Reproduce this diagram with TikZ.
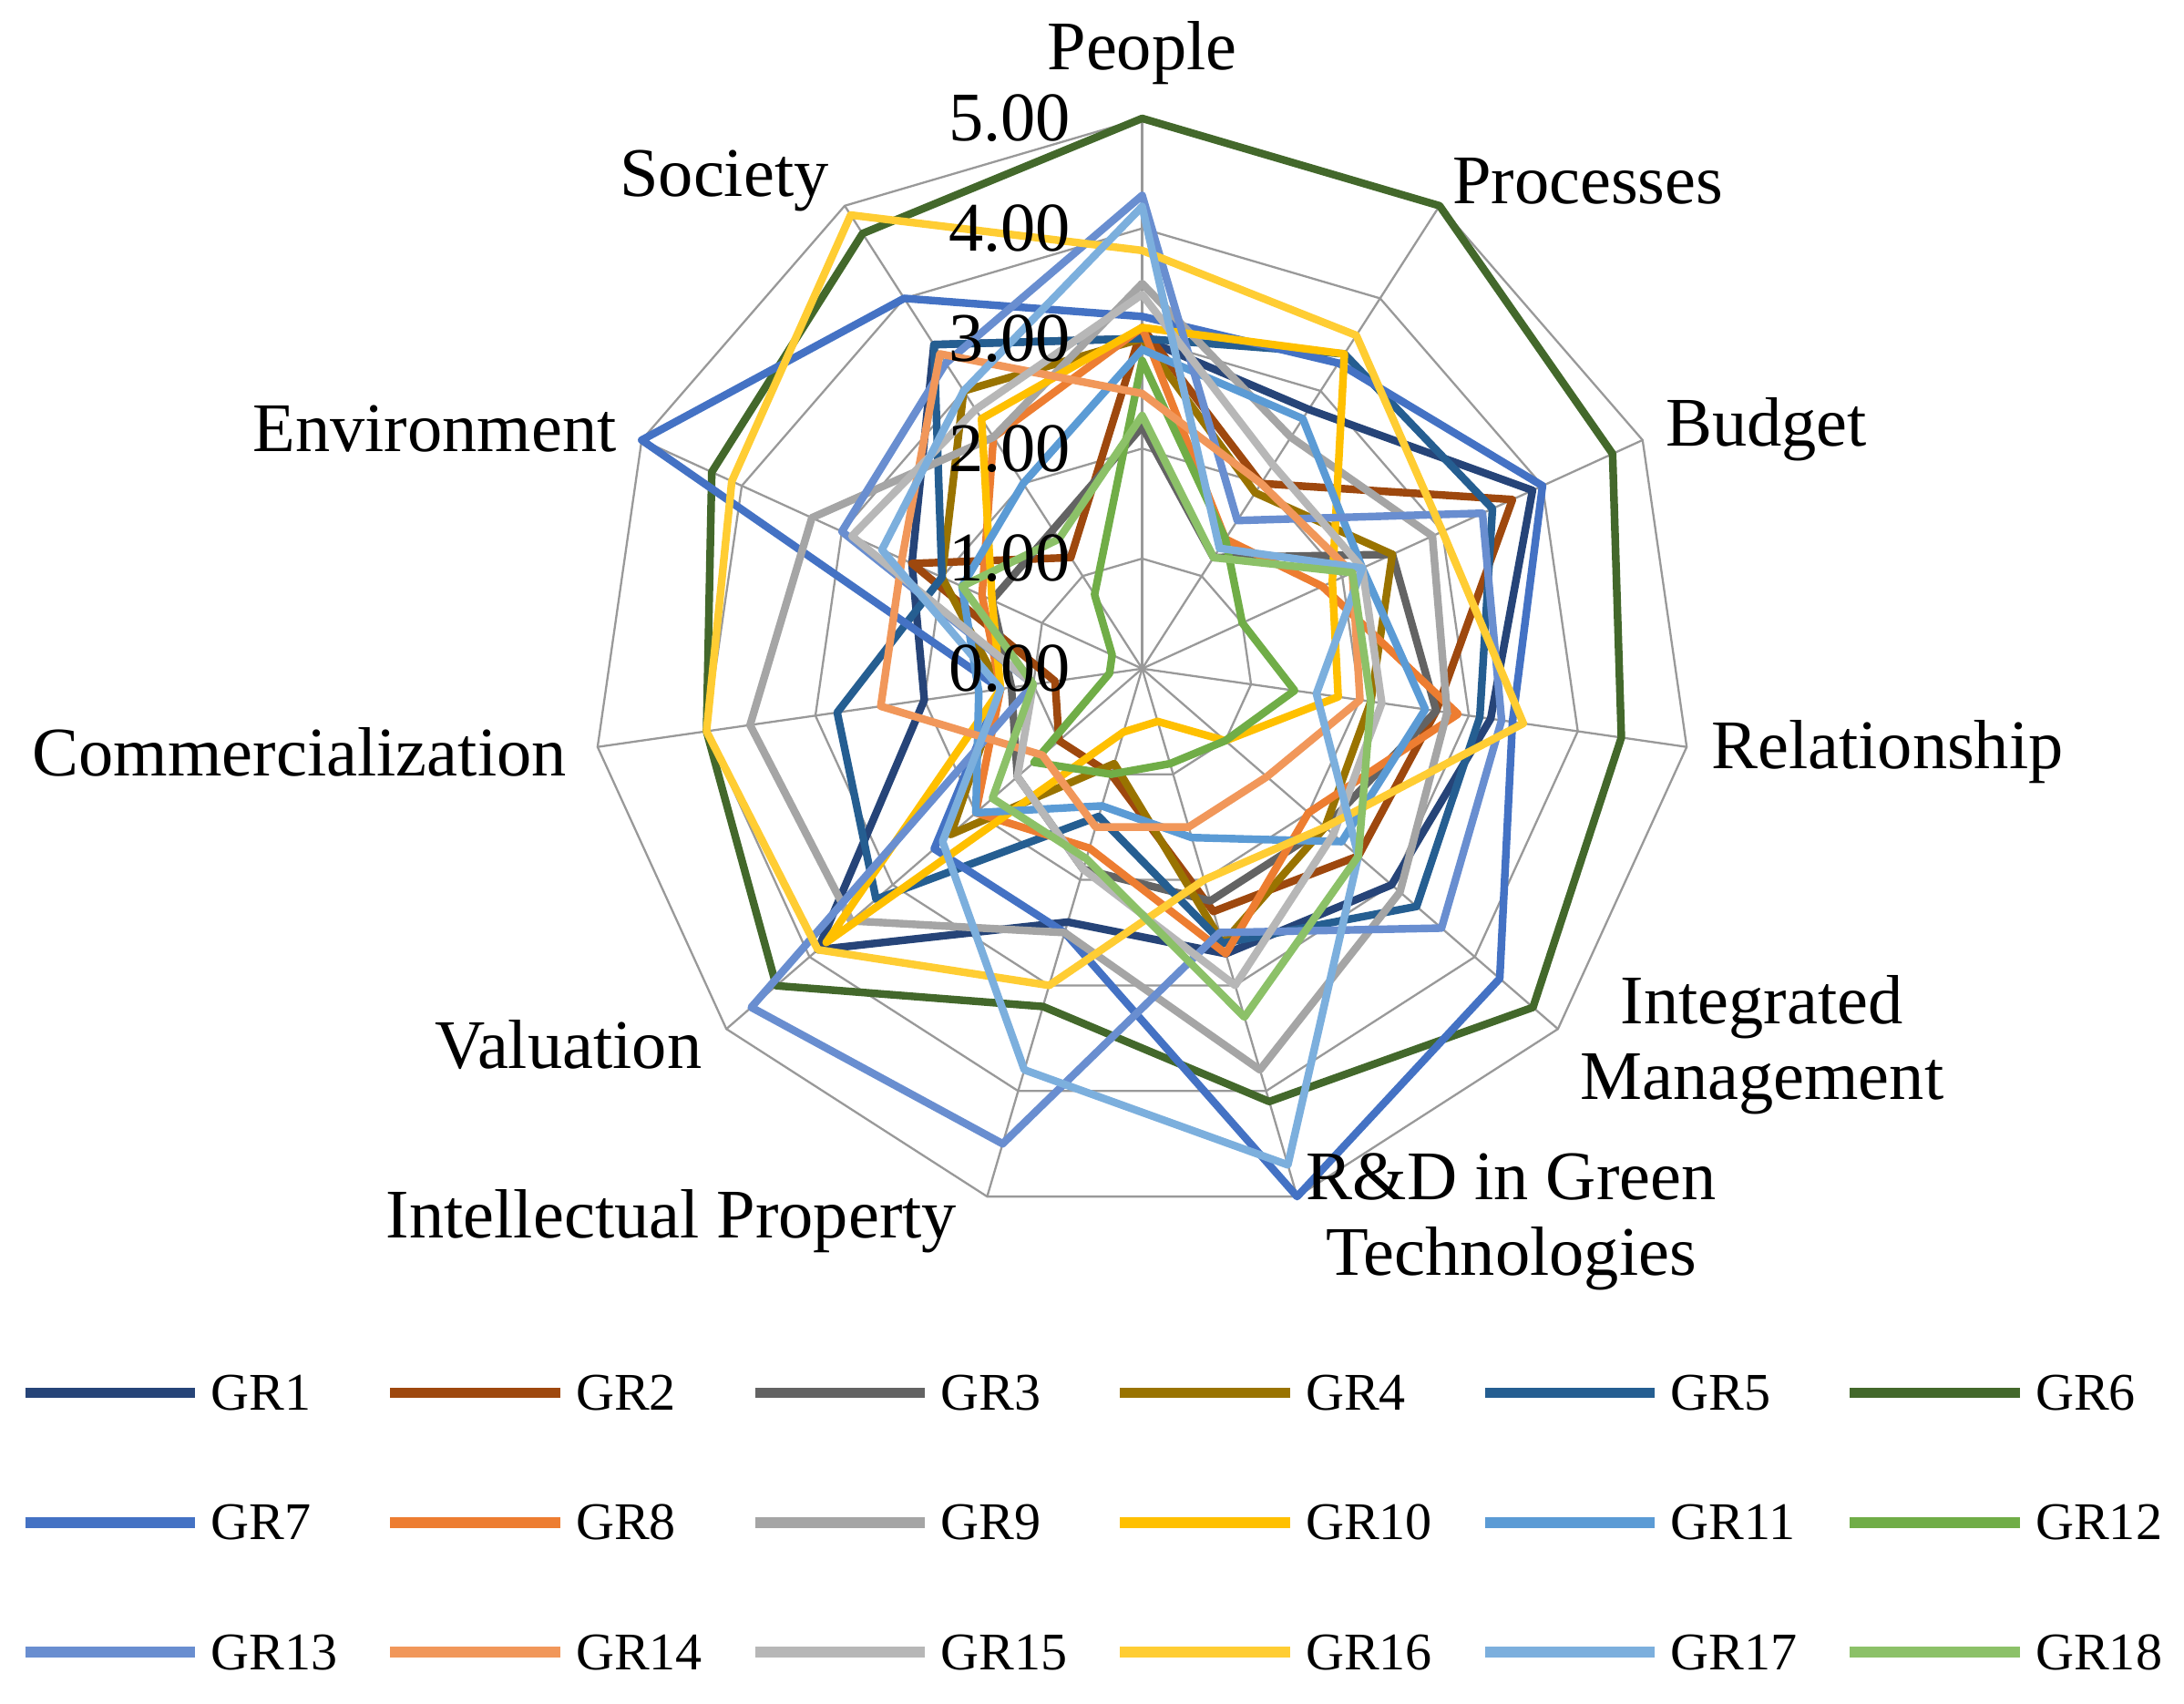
\documentclass[tikz,border=0pt]{standalone}
\usepackage{fontspec}
\setmainfont{Liberation Serif}
\usetikzlibrary{calc}
\definecolor{c1}{HTML}{264478}\definecolor{c2}{HTML}{9E480E}\definecolor{c3}{HTML}{636363}
\definecolor{c4}{HTML}{997300}\definecolor{c5}{HTML}{255E91}\definecolor{c6}{HTML}{43682B}
\definecolor{c7}{HTML}{4472C4}\definecolor{c8}{HTML}{ED7D31}\definecolor{c9}{HTML}{A5A5A5}
\definecolor{c10}{HTML}{FFC000}\definecolor{c11}{HTML}{5B9BD5}\definecolor{c12}{HTML}{70AD47}
\definecolor{c13}{HTML}{698ED0}\definecolor{c14}{HTML}{F1975A}\definecolor{c15}{HTML}{B7B7B7}
\definecolor{c16}{HTML}{FFCD33}\definecolor{c17}{HTML}{7CAFDD}\definecolor{c18}{HTML}{8CC168}
\tikzset{grid/.style={draw=gray!80,line width=1.5pt},
 series/.style={line width=5.5pt,line join=round},
 axlab/.style={font=\fontsize{50}{54}\selectfont,align=center},
 ticklab/.style={font=\fontsize{50}{54}\selectfont,anchor=east},
 legtxt/.style={font=\fontsize{38}{42}\selectfont,anchor=west}}
\begin{document}
\begin{tikzpicture}[x=1pt,y=1pt]
\fill[white] (0,0) rectangle (1568,-1223);
\useasboundingbox (0,0) rectangle (1568,-1223);
\coordinate (O) at (820,-480);
% grid
\foreach \r in {1,...,5}{
 \draw[grid] ($(O)+(90:79*\r)$) \foreach \i in {1,...,10}{ -- ($(O)+({90-360/11*\i}:{79*\r})$)} -- cycle;
}
\foreach \i in {0,...,10}{\draw[grid] (O) -- ($(O)+({90-360/11*\i}:395)$);}
% series
\foreach \n/\vals in {
1/{3.0,2.8,3.9,3.2,3.0,2.7,2.4,3.9,2.0,2.3,3.5},
2/{3.1,2.0,3.7,2.7,2.6,2.3,1.0,1.0,0.8,2.3,1.2},
3/{2.2,1.2,2.5,2.7,2.2,2.2,1.9,1.5,1.2,1.5,1.5},
4/{3.0,1.9,2.5,2.1,2.2,2.6,0.9,2.3,1.3,2.0,3.0},
5/{3.0,3.4,3.5,3.1,3.3,2.6,1.4,3.2,2.8,2.0,3.5},
6/{5.0,5.0,4.7,4.4,4.7,4.1,3.2,4.4,4.0,4.3,4.7},
7/{3.2,3.3,4.0,3.4,4.3,5.0,2.5,2.5,1.3,5.0,4.0},
8/{3.1,1.4,1.8,2.9,2.0,2.7,1.7,2.0,1.3,1.6,2.5},
9/{3.5,2.5,2.9,2.8,3.1,3.8,2.5,3.5,3.6,3.3,2.5},
10/{3.1,3.4,1.9,1.8,1.0,0.5,0.6,3.8,1.3,1.5,2.7},
11/{2.9,2.7,2.2,2.6,2.4,1.6,1.3,2.0,1.5,1.8,2.0},
12/{2.8,1.4,1.0,1.4,1.0,0.9,1.0,1.3,0.3,0.3,0.8},
13/{4.3,1.6,3.4,3.3,3.6,2.5,4.5,4.7,1.0,3.0,3.3},
14/{2.5,2.0,2.1,2.0,1.5,1.5,1.5,1.2,2.4,2.4,3.4},
15/{3.4,2.2,2.2,2.2,2.3,3.0,1.9,1.5,1.0,2.9,2.8},
16/{3.8,3.6,3.0,3.5,2.2,2.0,3.0,3.9,4.0,4.1,4.9},
17/{4.2,1.3,2.2,1.6,2.6,4.7,3.8,2.4,1.3,2.6,3.0},
18/{2.3,1.2,2.1,2.1,2.6,3.3,1.8,1.8,1.0,1.8,1.4}}{
 \foreach \v [count=\k from 0] in \vals {\coordinate (p\k) at ($(O)+({90-360/11*\k}:{79*\v})$);}
 \draw[series,draw=c\n] (p0)--(p1)--(p2)--(p3)--(p4)--(p5)--(p6)--(p7)--(p8)--(p9)--(p10)--cycle;
}
% tick labels
\foreach \t [count=\k from 0] in {0.00,1.00,2.00,3.00,4.00,5.00}{
 \node[ticklab] (t\k) at (772,{-480+79*\k}) {\t};}
% axis labels
\node[axlab] (l0) at (820,-38) {People};
\node[axlab] (l1) at (1140,-130) {Processes};
\node[axlab] (l2) at (1268,-308) {Budget};
\node[axlab] (l3) at (1355,-540) {Relationship};
\node[axlab] (l4) at (1265,-750) {Integrated\\Management};
\node[axlab] (l5) at (1085,-877) {R\&D in Green\\Technologies};
\node[axlab] (l6) at (482,-877) {Intellectual Property};
\node[axlab] (l7) at (408,-750) {Valuation};
\node[axlab] (l8) at (215,-540) {Commercialization};
\node[axlab] (l9) at (312,-308) {Environment};
\node[axlab] (l10) at (520,-130) {Society};
% legend
\foreach \n in {1,...,18}{
 \pgfmathtruncatemacro{\row}{int((\n-1)/6)}
 \pgfmathtruncatemacro{\col}{mod(\n-1,6)}
 \coordinate (la\n) at ({18+262*\col},{-1000-93*\row});
 \coordinate (lb\n) at ({140+262*\col},{-1000-93*\row});
 \draw[draw=c\n,line width=7.5pt] (la\n) -- (lb\n);
 \node[legtxt] (g\n) at ({148+262*\col},{-1000-93*\row}) {GR\n};
}
\end{tikzpicture}
\end{document}
